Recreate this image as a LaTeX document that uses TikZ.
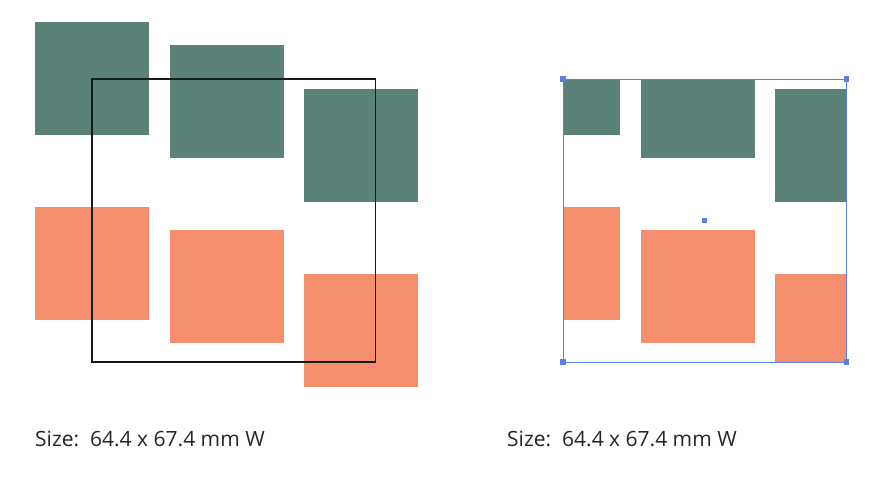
\documentclass[tikz,border=0pt]{standalone}
\usepackage{fontspec}
\setmainfont{Open Sans}
\definecolor{teal}{HTML}{5A8279}
\definecolor{coral}{HTML}{F58E6E}
\definecolor{selblue}{HTML}{5B7FE6}
\begin{document}
\begin{tikzpicture}[x=1pt,y=-1pt,
  tsq/.style={fill=teal},
  osq/.style={fill=coral},
  handle/.style={fill=selblue},
  captext/.style={anchor=base west,inner sep=0pt,font=\fontsize{21}{24}\selectfont,text=black!85}]
\useasboundingbox (0,0) rectangle (895,485);
% left panel
\fill[tsq] (35,22) rectangle (149,135);
\fill[tsq] (170,45) rectangle (284,158);
\fill[tsq] (304,89) rectangle (418,202);
\fill[osq] (35,207) rectangle (149,320);
\fill[osq] (170,230) rectangle (284,343);
\fill[osq] (304,274) rectangle (418,387);
\draw[line width=1.8pt,black!90] (92,79) rectangle (375.5,362);
\node[captext] (capL) at (35,446) {Size:\ \ 64.4 x 67.4 mm W};
% right panel
\begin{scope}[xshift=471pt]
\begin{scope}
\clip (92,79) rectangle (375.5,362);
\fill[tsq] (35,22) rectangle (149,135);
\fill[tsq] (170,45) rectangle (284,158);
\fill[tsq] (304,89) rectangle (418,202);
\fill[osq] (35,207) rectangle (149,320);
\fill[osq] (170,230) rectangle (284,343);
\fill[osq] (304,274) rectangle (418,387);
\end{scope}
\draw[line width=0.9pt,selblue] (92,79) rectangle (375.5,362);
\foreach \px/\py in {92/79,375.5/79,92/362,375.5/362,233.5/220.5}
  \fill[handle] (\px-2.8,\py-2.8) rectangle (\px+2.8,\py+2.8);
\node[captext] (capR) at (36,446) {Size:\ \ 64.4 x 67.4 mm W};
\end{scope}
\end{tikzpicture}
\end{document}
